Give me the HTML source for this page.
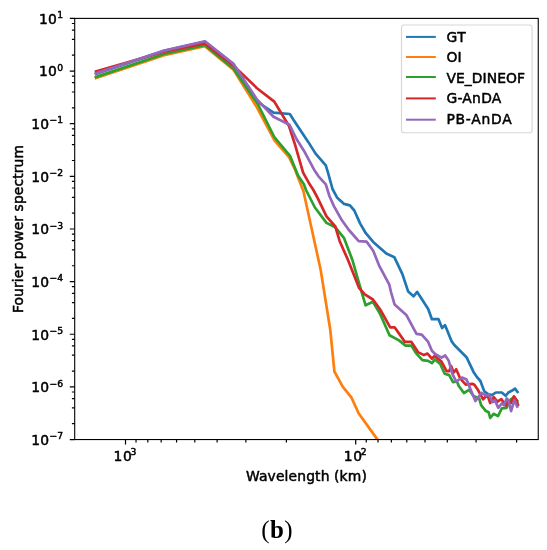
<!DOCTYPE html>
<html><head><meta charset="utf-8"><title>Fourier power spectrum</title>
<style>html,body{margin:0;padding:0;background:#fff}svg{display:block}text{font-family:"DejaVu Sans","Liberation Sans",sans-serif;font-size:13.89px;fill:#000;stroke:#000;stroke-width:0.5px;stroke-linejoin:round}.cap{font-family:"Liberation Serif","DejaVu Serif",serif;font-size:25px;stroke:none}</style></head><body>
<svg width="547" height="550" viewBox="0 0 547 550">
<rect width="547" height="550" fill="#fff"/>
<defs><clipPath id="ax"><rect x="74.7" y="18.4" width="463.55" height="421.15000000000003"/></clipPath></defs>
<g clip-path="url(#ax)" fill="none" stroke-width="2.7" stroke-linejoin="round" stroke-linecap="butt">
<polyline stroke="#1f77b4" points="94.7,74.3 164.2,50.9 204.9,41.7 233.5,64.2 257.0,101.5 273.5,112.6 289.8,114.0 293.6,120.0 308.2,141.9 315.6,153.6 325.8,165.3 328.0,172.6 332.5,189.0 337.0,197.4 344.1,203.9 349.9,205.4 354.3,210.5 360.2,223.6 365.8,233.2 373.2,241.9 386.3,253.6 394.4,257.3 402.4,274.1 408.2,291.6 413.5,296.3 417.2,291.9 428.2,309.0 431.9,319.2 438.5,319.2 442.1,328.0 445.0,325.1 451.6,341.2 454.3,345.0 466.5,357.2 473.5,371.9 476.6,376.6 480.4,381.0 484.3,391.4 488.1,394.1 491.9,395.2 495.8,392.5 501.8,392.5 505.6,395.8 508.4,392.5 511.7,390.8 515.0,388.6 518.3,393.0"/>
<polyline stroke="#ff7f0e" points="94.7,78.5 164.2,55.1 204.9,46.2 233.5,69.7 257.0,107.5 274.6,140.5 289.2,157.3 295.1,169.7 303.5,191.5 320.7,270.0 330.3,330.0 334.4,371.5 342.7,386.7 351.5,397.6 358.6,413.2 376.6,438.4 380.0,443.0"/>
<polyline stroke="#2ca02c" points="94.7,77.4 164.2,54.0 204.9,45.2 233.5,68.7 257.5,103.5 274.3,137.0 290.0,155.8 298.0,175.6 303.9,184.3 306.0,190.0 314.9,207.5 326.5,222.9 335.3,227.3 344.1,238.2 352.4,260.0 360.4,287.8 365.6,305.3 372.9,301.7 380.2,314.1 389.5,335.3 399.0,340.4 405.6,345.6 411.4,345.6 415.8,352.9 422.4,360.2 428.2,360.9 431.9,363.1 435.0,359.5 440.2,364.0 444.7,373.8 449.2,375.1 453.0,382.1 456.9,381.5 458.8,386.0 463.9,393.0 469.0,389.8 473.3,395.8 479.3,398.9 481.1,405.1 485.5,410.7 488.6,412.2 490.2,418.0 493.6,413.8 498.0,416.1 501.8,408.4 506.7,407.8 508.9,402.4 511.1,399.1 514.0,397.5 518.0,402.0"/>
<polyline stroke="#d62728" points="94.7,71.8 164.2,51.7 204.9,43.5 233.5,65.6 257.0,88.2 274.3,101.6 289.0,126.0 295.1,144.9 303.1,172.6 309.7,184.3 313.4,190.0 317.7,198.2 326.5,216.3 335.3,226.5 339.7,241.2 348.0,260.0 359.0,287.8 364.8,294.4 372.9,299.5 380.2,309.5 390.2,327.3 394.6,327.3 404.9,341.9 411.4,341.9 418.0,352.1 423.9,355.1 427.5,353.6 431.9,358.7 434.6,355.8 441.5,361.6 446.6,371.2 449.2,371.2 451.1,366.1 453.7,372.5 456.2,369.3 460.1,378.3 465.8,384.7 472.2,383.8 474.4,384.8 478.0,390.0 483.1,399.3 487.5,395.0 490.2,403.0 493.7,397.2 497.5,401.6 501.3,399.1 505.6,405.6 508.4,400.7 511.1,402.9 513.9,396.3 516.6,400.2 518.3,406.2"/>
<polyline stroke="#9467bd" points="94.7,73.9 164.2,50.6 204.9,41.3 233.5,63.9 257.0,99.5 273.5,116.8 289.5,124.8 296.5,139.0 303.9,150.7 314.1,169.7 318.5,176.3 325.8,184.3 329.4,196.0 333.9,206.1 341.2,219.2 348.5,229.5 358.7,241.2 366.6,241.6 373.2,250.7 379.0,265.3 389.2,284.3 391.0,292.0 394.6,304.6 406.3,314.9 416.5,333.9 421.7,334.6 428.2,341.9 431.9,350.7 435.1,354.0 441.5,357.6 445.2,355.5 448.6,360.4 452.4,373.8 456.2,381.5 462.0,377.6 466.5,379.6 471.0,390.4 475.4,401.0 481.4,393.0 486.4,395.6 488.7,394.5 492.6,402.2 495.0,400.4 498.2,407.8 501.8,403.5 504.0,405.1 506.7,398.5 508.4,400.2 511.1,411.1 514.4,400.2 517.7,407.8"/>
</g>
<path d="M69.8,18.40H74.7M71.9,55.20H74.7M71.9,39.35H74.7M71.9,30.08H74.7M71.9,23.50H74.7M69.8,71.04H74.7M71.9,107.84H74.7M71.9,91.99H74.7M71.9,82.72H74.7M71.9,76.15H74.7M69.8,123.69H74.7M71.9,160.48H74.7M71.9,144.64H74.7M71.9,135.37H74.7M71.9,128.79H74.7M69.8,176.33H74.7M71.9,213.13H74.7M71.9,197.28H74.7M71.9,188.01H74.7M71.9,181.43H74.7M69.8,228.98H74.7M71.9,265.77H74.7M71.9,249.92H74.7M71.9,240.65H74.7M71.9,234.08H74.7M69.8,281.62H74.7M71.9,318.42H74.7M71.9,302.57H74.7M71.9,293.30H74.7M71.9,286.72H74.7M69.8,334.26H74.7M71.9,371.06H74.7M71.9,355.21H74.7M71.9,345.94H74.7M71.9,339.36H74.7M69.8,386.91H74.7M71.9,423.70H74.7M71.9,407.86H74.7M71.9,398.59H74.7M71.9,392.01H74.7M69.8,439.55H74.7M125.50,439.55V444.4M355.70,439.55V444.4M286.40,439.55V442.4M245.87,439.55V442.4M217.11,439.55V442.4M194.80,439.55V442.4M176.57,439.55V442.4M161.16,439.55V442.4M147.81,439.55V442.4M136.03,439.55V442.4M516.60,439.55V442.4M476.07,439.55V442.4M447.31,439.55V442.4M425.00,439.55V442.4M406.77,439.55V442.4M391.36,439.55V442.4M378.01,439.55V442.4M366.23,439.55V442.4" stroke="#000" stroke-width="1.2" fill="none"/>
<rect x="74.7" y="18.4" width="463.55" height="421.15" fill="none" stroke="#000" stroke-width="1.1"/>
<text x="63.0" y="23.7" text-anchor="end"><tspan letter-spacing="0.25">10</tspan><tspan dx="0" dy="-5.6" font-size="9.2px">1</tspan></text>
<text x="63.0" y="76.3" text-anchor="end"><tspan letter-spacing="0.25">10</tspan><tspan dx="0" dy="-5.6" font-size="9.2px">0</tspan></text>
<text x="63.0" y="129.0" text-anchor="end"><tspan letter-spacing="0.25">10</tspan><tspan dx="0" dy="-5.6" font-size="9.2px">−1</tspan></text>
<text x="63.0" y="181.6" text-anchor="end"><tspan letter-spacing="0.25">10</tspan><tspan dx="0" dy="-5.6" font-size="9.2px">−2</tspan></text>
<text x="63.0" y="234.3" text-anchor="end"><tspan letter-spacing="0.25">10</tspan><tspan dx="0" dy="-5.6" font-size="9.2px">−3</tspan></text>
<text x="63.0" y="286.9" text-anchor="end"><tspan letter-spacing="0.25">10</tspan><tspan dx="0" dy="-5.6" font-size="9.2px">−4</tspan></text>
<text x="63.0" y="339.6" text-anchor="end"><tspan letter-spacing="0.25">10</tspan><tspan dx="0" dy="-5.6" font-size="9.2px">−5</tspan></text>
<text x="63.0" y="392.2" text-anchor="end"><tspan letter-spacing="0.25">10</tspan><tspan dx="0" dy="-5.6" font-size="9.2px">−6</tspan></text>
<text x="63.0" y="444.9" text-anchor="end"><tspan letter-spacing="0.25">10</tspan><tspan dx="0" dy="-5.6" font-size="9.2px">−7</tspan></text>
<text x="125.0" y="460.8" text-anchor="middle"><tspan letter-spacing="0.6">10</tspan><tspan dx="-1.9" dy="-6.2" font-size="9.2px">3</tspan></text>
<text x="355.2" y="460.8" text-anchor="middle"><tspan letter-spacing="0.6">10</tspan><tspan dx="-1.9" dy="-6.2" font-size="9.2px">2</tspan></text>
<text x="306.5" y="480.7" text-anchor="middle" letter-spacing="0.12">Wavelength (km)</text>
<text transform="translate(22.6,229.0) rotate(-90)" text-anchor="middle" letter-spacing="0.1">Fourier power spectrum</text>
<rect x="401.5" y="25" width="130.6" height="107.7" rx="2.8" ry="2.8" fill="#fff" fill-opacity="0.8" stroke="#ccc" stroke-opacity="0.8" stroke-width="1.1"/>
<line x1="406" y1="36.9" x2="435.8" y2="36.9" stroke="#1f77b4" stroke-width="2"/>
<text x="446.4" y="41.6" letter-spacing="0.6">GT</text>
<line x1="406" y1="57.0" x2="435.8" y2="57.0" stroke="#ff7f0e" stroke-width="2"/>
<text x="446.4" y="62.1" letter-spacing="0.1">OI</text>
<line x1="406" y1="77.0" x2="435.8" y2="77.0" stroke="#2ca02c" stroke-width="2"/>
<text x="446.4" y="82.7" letter-spacing="0.08">VE_DINEOF</text>
<line x1="406" y1="98.4" x2="435.8" y2="98.4" stroke="#d62728" stroke-width="2"/>
<text x="446.4" y="103.4" letter-spacing="0.25">G-AnDA</text>
<line x1="406" y1="119.7" x2="435.8" y2="119.7" stroke="#9467bd" stroke-width="2"/>
<text x="446.4" y="124.0" letter-spacing="0.75">PB-AnDA</text>
<text class="cap" transform="translate(277.2,537.6) scale(1,1.0)" text-anchor="middle" letter-spacing="0.4">(<tspan font-weight="bold">b</tspan>)</text>
</svg></body></html>
